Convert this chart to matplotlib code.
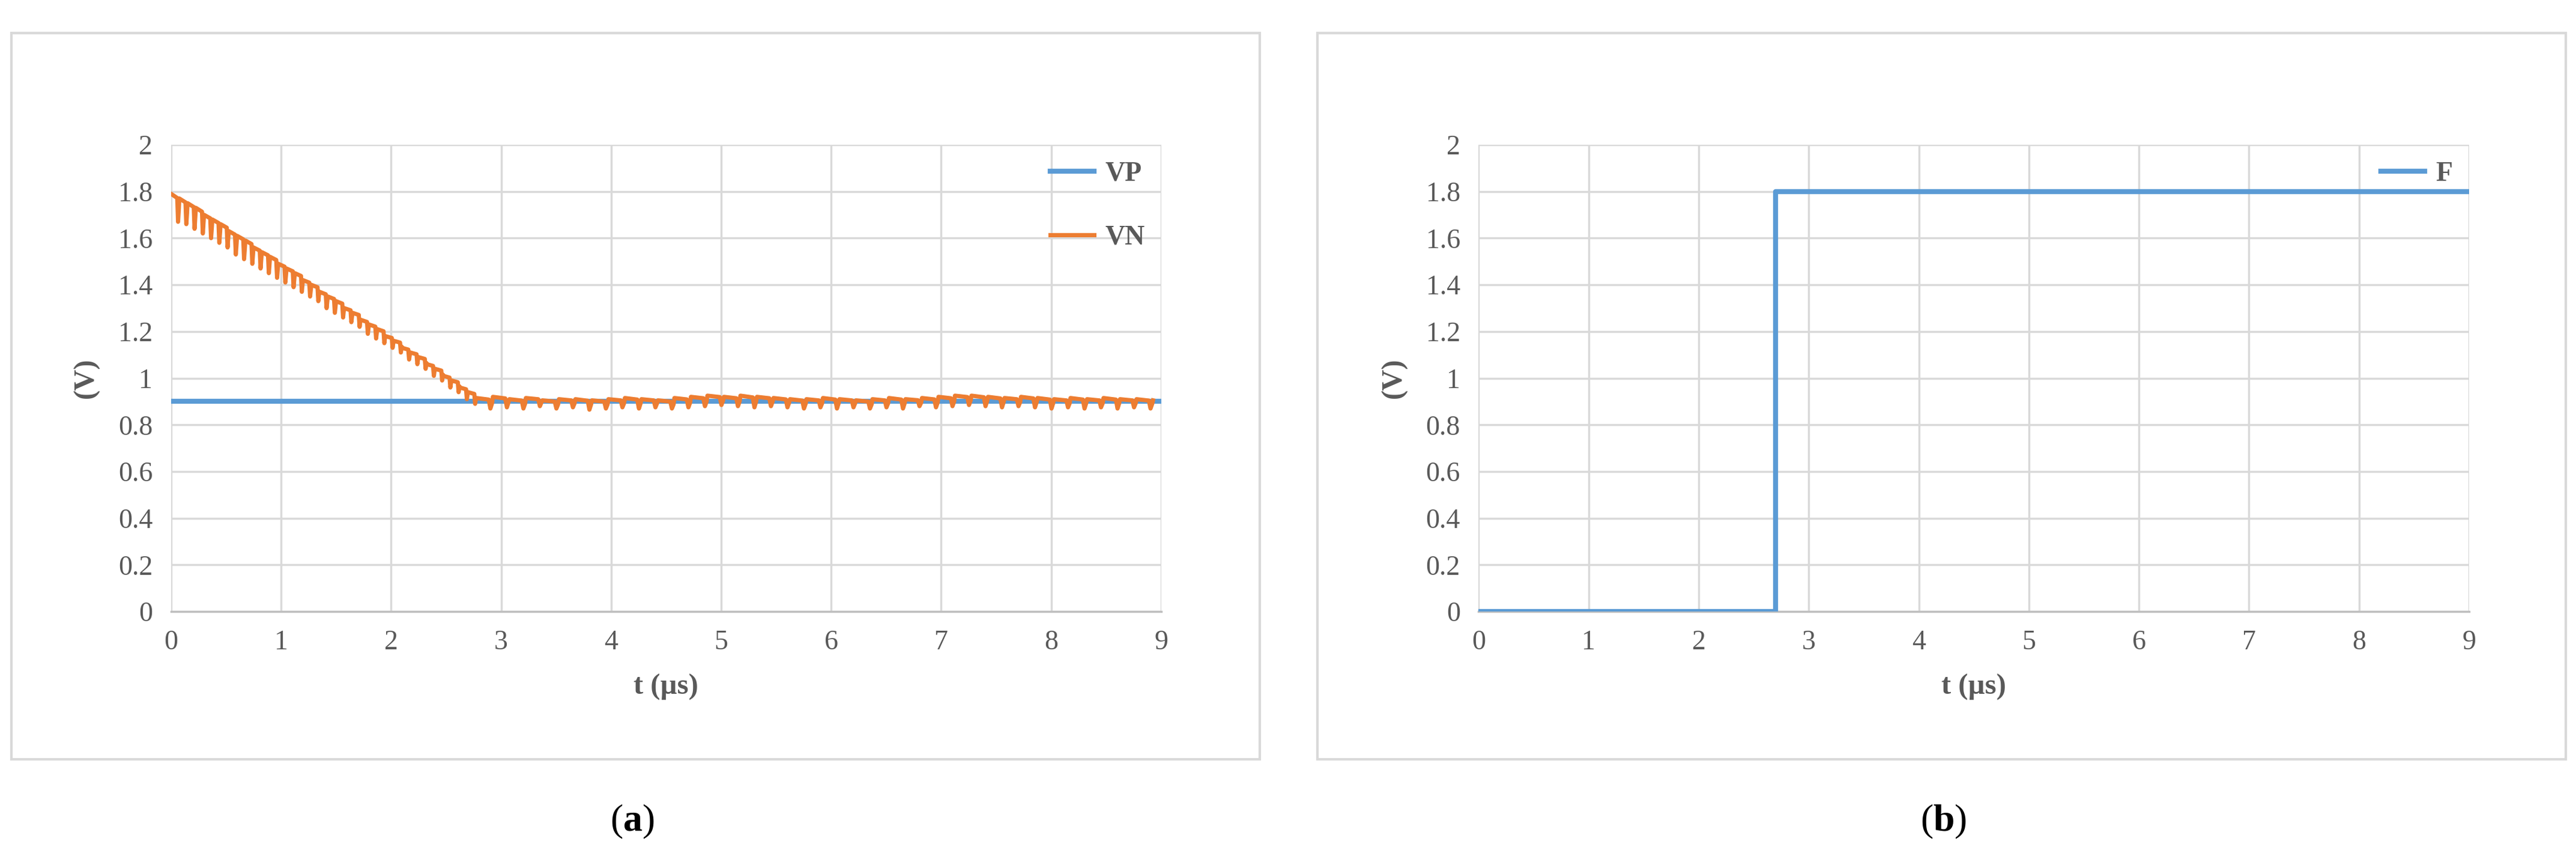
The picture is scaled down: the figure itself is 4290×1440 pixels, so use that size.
import matplotlib
matplotlib.use("Agg")
import matplotlib.pyplot as plt
from matplotlib.patches import Rectangle
import numpy as np

# ---- data ----
ramp_t0 = 0.0
ramp_period = 0.075
vn_ramp_peak = [1.79,1.77,1.75,1.73,1.70,1.68,1.66,1.63,1.61,1.59,1.56,1.54,1.52,1.49,
                1.47,1.45,1.42,1.40,1.37,1.35,1.33,1.30,1.28,1.25,1.23,1.21,1.18,1.16,
                1.13,1.11,1.09,1.06,1.04,1.01,0.99,0.96,0.94]
vn_ramp_dip = [1.67,1.66,1.64,1.62,1.60,1.58,1.56,1.53,1.51,1.49,1.47,1.45,1.43,1.41,
               1.39,1.37,1.35,1.33,1.30,1.28,1.26,1.24,1.22,1.19,1.17,1.15,1.13,1.11,
               1.08,1.06,1.04,1.01,0.99,0.96,0.94,0.91,0.89]
steady_t0 = 2.775
steady_period = 0.15
vn_steady_peak = [0.915,0.92,0.91,0.915,0.905,0.91,0.91,0.905,0.91,0.915,0.91,0.905,0.915,
                  0.92,0.925,0.92,0.925,0.92,0.915,0.91,0.91,0.915,0.91,0.905,0.91,
                  0.915,0.91,0.915,0.92,0.925,0.925,0.92,0.915,0.92,0.915,0.91,0.915,0.91,
                  0.915,0.91,0.91,0.905]
vn_steady_dip = [0.87,0.875,0.87,0.88,0.87,0.875,0.865,0.87,0.875,0.87,0.875,0.87,0.875,
                 0.88,0.885,0.88,0.875,0.88,0.875,0.87,0.875,0.87,0.875,0.87,0.875,
                 0.87,0.88,0.875,0.88,0.885,0.88,0.875,0.88,0.875,0.87,0.875,0.87,0.875,
                 0.87,0.875,0.87,0.865]
vp_t = [0, 9]
vp_v = [0.9, 0.9]
f_t = [0, 2.7, 2.7, 9]
f_v = [0, 0, 1.8, 1.8]
x_ticks = [0,1,2,3,4,5,6,7,8,9]
y_ticks = [0,0.2,0.4,0.6,0.8,1,1.2,1.4,1.6,1.8,2]
y_tick_labels = ["0","0.2","0.4","0.6","0.8","1","1.2","1.4","1.6","1.8","2"]

# build VN waveform from cycle values
vn_t, vn_v = [], []
def add_cycles(t0, per, peaks, dips):
    for i, (p, d) in enumerate(zip(peaks, dips)):
        ts = t0 + i * per
        vn_t.extend([ts, ts + per * 0.75, ts + per * 0.85, ts + per * 0.95])
        vn_v.extend([p, p - (p - d) * 0.15, d, p - (p - d) * 0.5])
add_cycles(ramp_t0, ramp_period, vn_ramp_peak, vn_ramp_dip)
add_cycles(steady_t0, steady_period, vn_steady_peak, vn_steady_dip)
vn_t = np.array(vn_t); vn_v = np.array(vn_v)
m = vn_t <= 9
vn_t, vn_v = vn_t[m], vn_v[m]

plt.rcParams['font.family'] = ['Liberation Serif', 'DejaVu Serif']
plt.rcParams['mathtext.fontset'] = 'custom'
plt.rcParams['mathtext.rm'] = 'Liberation Serif'
plt.rcParams['mathtext.bf'] = 'Liberation Serif:bold'
fig = plt.figure(figsize=(42.9, 14.4), dpi=100)

for x0 in (0.0044, 0.5114):
    fig.add_artist(Rectangle((x0, 0.122), 0.4846, 0.8396, transform=fig.transFigure,
                             fill=False, edgecolor='#D9D9D9', linewidth=3))

BLUE = '#5B9BD5'; ORANGE = '#ED7D31'
axa = fig.add_axes([0.0664, 0.293, 0.3844, 0.5396])
axb = fig.add_axes([0.574, 0.293, 0.3845, 0.5396])

axa.plot(vp_t, vp_v, color=BLUE, lw=6, label='VP', zorder=3)
axa.plot(vn_t, vn_v, color=ORANGE, lw=5, label='VN', zorder=4)
axb.plot(f_t, f_v, color=BLUE, lw=6, label='F', zorder=3)

for ax in (axa, axb):
    ax.set_xlim(0, 9); ax.set_ylim(0, 2)
    ax.set_xticks(x_ticks); ax.set_yticks(y_ticks)
    ax.set_yticklabels(y_tick_labels)
    ax.grid(True, color='#D9D9D9', lw=2.5)
    ax.set_axisbelow(True)
    for s in ax.spines.values():
        s.set_visible(False)
    ax.spines['bottom'].set_visible(True)
    ax.spines['bottom'].set_color('#BFBFBF'); ax.spines['bottom'].set_linewidth(2.5)
    ax.tick_params(length=0, labelsize=33, colors='#595959', pad=22)
    ax.set_xlabel('t (µs)', fontsize=35, fontweight='bold', color='#595959', labelpad=22)
    ax.set_ylabel('(V)', fontsize=35, fontweight='bold', color='#595959', labelpad=22)
    leg = ax.legend(loc='upper right', frameon=False, fontsize=33, handlelength=1.6,
                    labelspacing=1.4, borderaxespad=0.2, handletextpad=0.4)
    for t in leg.get_texts():
        t.set_color('#595959'); t.set_fontweight('bold')

fig.text(0.2455, 0.05, r'($\mathbf{a}$)', ha='center', va='center', fontsize=46)
fig.text(0.7545, 0.05, r'($\mathbf{b}$)', ha='center', va='center', fontsize=46)
fig.savefig('out.png', dpi=100, facecolor='white')
